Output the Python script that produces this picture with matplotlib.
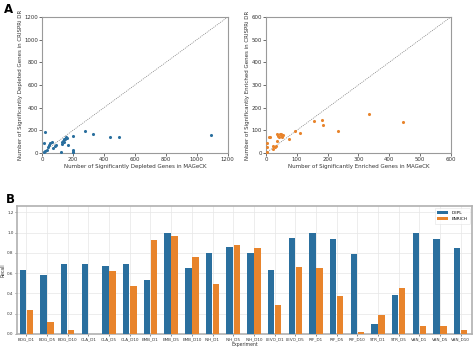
import numpy as np
import matplotlib
matplotlib.use("Agg")
import matplotlib.pyplot as plt

# ---------- Data ----------
depl_mageck = [1094, 496, 438, 330, 280, 198, 200, 201, 170, 157, 150, 140, 132, 125,
               160, 145, 127, 84, 70, 65, 52, 43, 40, 19, 15, 10, 20, 30, 90, 135, 200]
depl_crispr = [155, 143, 138, 164, 190, 149, 23, 6, 67, 143, 120, 100, 80, 9,
               130, 125, 95, 65, 40, 95, 91, 68, 55, 187, 85, 8, 18, 28, 75, 110, 12]

enr_mageck = [444, 333, 233, 186, 182, 157, 112, 95, 76, 48, 43, 35, 37, 40, 33, 24,
              22, 13, 2, 2, 2, 29, 45, 52, 55, 11, 50]
enr_crispr = [138, 171, 97, 125, 146, 141, 87, 97, 62, 82, 71, 82, 53, 75, 31, 32,
              18, 69, 43, 25, 4, 28, 85, 70, 80, 69, 78]

experiments = ["BDG_D1", "BDG_D5", "BDG_D10", "CLA_D1", "CLA_D5", "CLA_D10",
               "EMB_D1", "EMB_D5", "EMB_D10", "INH_D1", "INH_D5", "INH_D10",
               "LEVO_D1", "LEVO_D5", "RIF_D1", "RIF_D5", "RIF_D10",
               "STR_D1", "STR_D5", "VAN_D1", "VAN_D5", "VAN_D10"]
depl_vals = [0.63, 0.577, 0.685, 0.685, 0.672, 0.69, 0.528, 1.0, 0.646, 0.80, 0.86,
             0.80, 0.633, 0.948, 0.997, 0.934, 0.787, 0.098, 0.38, 1.0, 0.94, 0.85]
enrich_vals = [0.236, 0.115, 0.036, 0.0, 0.62, 0.472, 0.93, 0.97, 0.76, 0.49, 0.88,
               0.85, 0.29, 0.656, 0.646, 0.377, 0.02, 0.184, 0.452, 0.08, 0.082, 0.04]

BLUE = "#2a6f9e"
ORANGE = "#e8842c"
SPINE = "#9a9a9a"
TXT = "#333333"

fig = plt.figure(figsize=(4.74, 3.47), dpi=100)

def style_scatter(ax, lim, step, xlabel, ylabel):
    ax.set_xlim(0, lim)
    ax.set_ylim(0, lim)
    ticks = np.arange(0, lim + 1, step)
    ax.set_xticks(ticks)
    ax.set_yticks(ticks)
    ax.tick_params(labelsize=3.9, length=2, width=0.5, pad=1, colors=TXT)
    for s in ax.spines.values():
        s.set_color(SPINE)
        s.set_linewidth(0.8)
    ax.set_xlabel(xlabel, fontsize=4.0, labelpad=1, color=TXT)
    ax.set_ylabel(ylabel, fontsize=4.0, labelpad=1, color=TXT)
    ax.plot([0, lim], [0, lim], linestyle=(0, (1.5, 1.5)), color="#777777", lw=0.5)

ax1 = fig.add_axes([0.0886, 0.559, 0.392, 0.392])
ax1.scatter(depl_mageck, depl_crispr, s=5, color=BLUE, zorder=3, linewidths=0)
style_scatter(ax1, 1200, 200, "Number of Significantly Depleted Genes in MAGeCK",
              "Number of Significantly Depleted Genes in CRISPRi DR")

ax2 = fig.add_axes([0.561, 0.559, 0.390, 0.392])
ax2.scatter(enr_mageck, enr_crispr, s=5, color=ORANGE, zorder=3, linewidths=0)
style_scatter(ax2, 600, 100, "Number of Significantly Enriched Genes in MAGeCK",
              "Number of Significantly Enriched Genes in CRISPRi DR")

# ---------- Bar chart ----------
ax3 = fig.add_axes([0.036, 0.0375, 0.96, 0.3685])
x = np.arange(len(experiments))
w = 0.31
ax3.bar(x - 0.17, depl_vals, width=w, color=BLUE, label="DEPL", zorder=3)
ax3.bar(x + 0.17, enrich_vals, width=w, color=ORANGE, label="ENRICH", zorder=3)
ax3.set_xlim(-0.45, len(experiments) - 0.45)
ax3.set_ylim(0, 1.26)
ax3.set_yticks(np.arange(0, 1.21, 0.2))
ax3.set_yticklabels([f"{v:.1f}" for v in np.arange(0, 1.21, 0.2)])
ax3.set_xticks(x)
ax3.set_xticklabels(experiments)
ax3.tick_params(labelsize=3.0, length=1.5, width=0.4, pad=1, colors=TXT)
ax3.grid(True, color="#e6e6e6", lw=0.5, zorder=0)
for s in ax3.spines.values():
    s.set_color("#b0b0b0")
    s.set_linewidth(1.2)
ax3.set_xlabel("Experiment", fontsize=3.3, labelpad=0.5, color=TXT)
ax3.set_ylabel("Recall", fontsize=3.3, labelpad=1, color=TXT)
leg = ax3.legend(loc="upper right", fontsize=3.1, frameon=True, handlelength=2.5,
                 handleheight=0.6, borderpad=0.6)
leg.get_frame().set_edgecolor("#dddddd")
leg.get_frame().set_linewidth(0.4)

fig.text(0.008, 0.99, "A", fontsize=8.5, fontweight="bold", va="top", ha="left")
fig.text(0.012, 0.445, "B", fontsize=8.5, fontweight="bold", va="top", ha="left")

fig.savefig("out.png", dpi=100)
